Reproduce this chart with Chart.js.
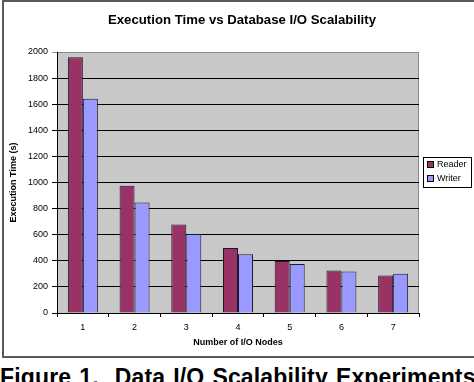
<!DOCTYPE html>
<html>
<head>
<meta charset="utf-8">
<script src="https://cdn.jsdelivr.net/npm/chart.js@4/dist/chart.umd.min.js"></script>
<style>
  html, body { margin: 0; padding: 0; background: #fff; }
  #wrap { position: relative; width: 474px; height: 382px; overflow: hidden; background: #fff; }
  #frame { position: absolute; left: 2px; top: 0; width: 474px; height: 358px;
           border-left: 2px solid #5a5a5a; border-top: 2px solid #5a5a5a; border-bottom: 2px solid #5a5a5a; box-sizing: border-box; }
  #c { position: absolute; left: 0; top: 0; }
  #caption { position: absolute; left: 0px; top: 366px; white-space: pre;
             font-family: "Liberation Sans", Arial, sans-serif; font-weight: bold; font-size: 23px;
             line-height: 23px; letter-spacing: 0.15px; word-spacing: 1.5px; color: #000; }
</style>
</head>
<body>
<div id="wrap">
  <div id="frame"></div>
  <canvas id="c" width="474" height="360"></canvas>
  <div id="caption">Figure 1.  Data I/O Scalability Experiments</div>
</div>
<script>
const categories = ['1', '2', '3', '4', '5', '6', '7'];
const readerValues = [1960, 975, 678, 498, 399, 325, 287];
const writerValues = [1642, 846, 605, 450, 376, 318, 300];
const seriesNames = ['Reader', 'Writer'];
const yTickStep = 200;
const yMax = 2000;
const chartTitle = 'Execution Time vs Database I/O Scalability';
const xTitle = 'Number of I/O Nodes';
const yTitle = 'Execution Time (s)';

const FONT = '"Liberation Sans", Arial, sans-serif';

const plotBg = {
  id: 'plotBg',
  beforeDraw(chart) {
    const {ctx, chartArea: a} = chart;
    ctx.save();
    ctx.fillStyle = '#c8c8c8';
    ctx.fillRect(a.left, a.top, a.right - a.left, a.bottom - a.top);
    ctx.strokeStyle = '#8a8a8a';
    ctx.lineWidth = 1;
    ctx.beginPath();
    ctx.moveTo(a.left, a.top + 0.5);
    ctx.lineTo(a.right - 0.5, a.top + 0.5);
    ctx.lineTo(a.right - 0.5, a.bottom);
    ctx.stroke();
    ctx.restore();
  }
};

const chartTitlePlugin = {
  id: 'chartTitlePlugin',
  afterDraw(chart) {
    const {ctx} = chart;
    ctx.save();
    ctx.fillStyle = '#000';
    ctx.font = 'bold 13.2px ' + FONT;
    ctx.textAlign = 'center';
    ctx.textBaseline = 'middle';
    ctx.fillText(chartTitle, 242, 20);
    ctx.restore();
  }
};

const boxLegend = {
  id: 'boxLegend',
  afterDraw(chart) {
    const {ctx} = chart;
    const x = 423, y = 157, w = 48, h = 30;
    ctx.save();
    ctx.fillStyle = '#fff';
    ctx.fillRect(x, y, w, h);
    ctx.strokeStyle = '#000';
    ctx.lineWidth = 1;
    ctx.strokeRect(x + 0.5, y + 0.5, w, h);
    ctx.font = '9px ' + FONT;
    ctx.textBaseline = 'middle';
    chart.data.datasets.forEach((ds, i) => {
      const cy = y + 8 + i * 14;
      ctx.fillStyle = ds.backgroundColor;
      ctx.fillRect(x + 4.5, cy - 3.5, 6, 6);
      ctx.strokeStyle = '#000';
      ctx.strokeRect(x + 4.5, cy - 3.5, 6, 6);
      ctx.fillStyle = '#000';
      ctx.fillText(ds.label, x + 14, cy);
    });
    ctx.restore();
  }
};

new Chart(document.getElementById('c'), {
  type: 'bar',
  data: {
    labels: categories,
    datasets: [
      { label: seriesNames[0], data: readerValues, backgroundColor: '#993366', borderColor: '#1a1a2e', borderWidth: 1 },
      { label: seriesNames[1], data: writerValues, backgroundColor: '#9999ff', borderColor: '#1a1a2e', borderWidth: 1 }
    ]
  },
  options: {
    responsive: false,
    animation: false,
    devicePixelRatio: 1,
    layout: { padding: { left: 0, right: 55, top: 52, bottom: 0 } },
    datasets: { bar: { categoryPercentage: 0.58, barPercentage: 1.0 } },
    plugins: {
      legend: { display: false },
      tooltip: { enabled: false },
      title: { display: false }
    },
    scales: {
      x: {
        afterFit(s) { s.height = 47; },
        grid: { display: true, drawOnChartArea: false, drawTicks: true, tickLength: 4, color: '#000', offset: true },
        border: { display: true, color: '#000', width: 1 },
        ticks: { color: '#000', font: { family: FONT, size: 9 }, padding: 5 },
        title: { display: true, text: xTitle, color: '#000', font: { family: FONT, size: 9, weight: 'bold' }, padding: { top: 0, bottom: 11.6 } }
      },
      y: {
        min: 0, max: yMax,
        afterFit(s) { s.width = 57; },
        grid: { color: (c) => (c.tick && c.tick.value === yMax ? '#8a8a8a' : '#000'), lineWidth: 1, tickLength: 5, drawTicks: true },
        border: { display: true, color: '#000', width: 1 },
        ticks: { stepSize: yTickStep, color: '#000', font: { family: FONT, size: 9 }, padding: 4, callback: (v) => String(v) },
        title: { display: true, text: yTitle, color: '#000', font: { family: FONT, size: 9, weight: 'bold' }, padding: { top: 8, bottom: 0 } }
      }
    }
  },
  plugins: [plotBg, chartTitlePlugin, boxLegend]
});
</script>
</body>
</html>
